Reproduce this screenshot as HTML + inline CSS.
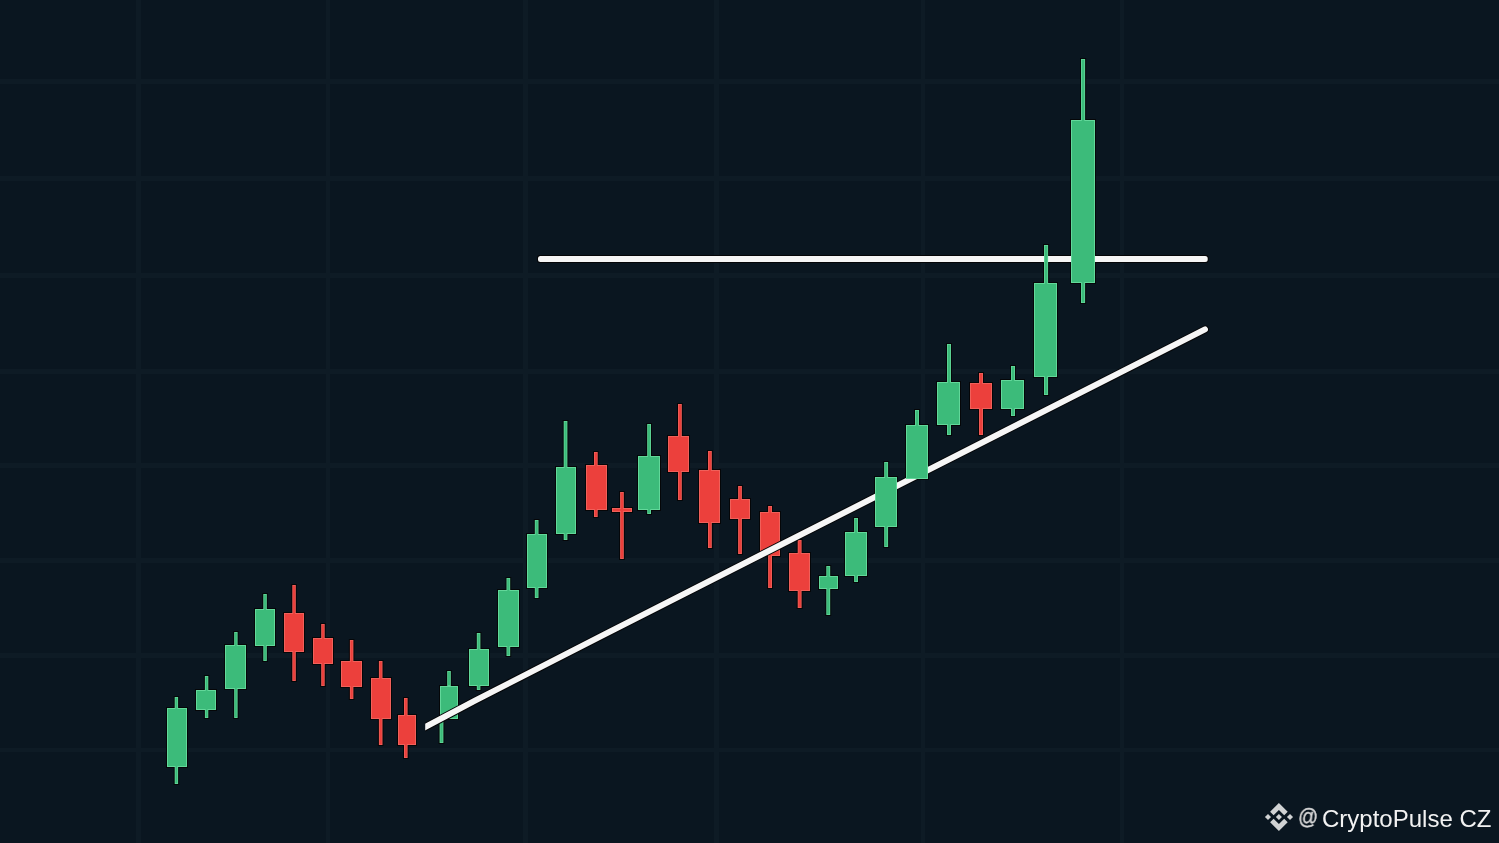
<!DOCTYPE html>
<html><head><meta charset="utf-8"><style>
html,body{margin:0;padding:0;background:#0a1620;width:1499px;height:843px;overflow:hidden}
svg{display:block;position:absolute;left:0;top:0}
.wm{position:absolute;font-family:"Liberation Sans",sans-serif;color:#f2f2f2;white-space:nowrap;will-change:transform;line-height:normal}
</style></head><body>
<svg width="1499" height="843" viewBox="0 0 1499 843">
<defs><clipPath id="clipd"><rect x="425.2" y="0" width="1499" height="843"/></clipPath></defs>
<rect width="1499" height="843" fill="#0a1620"/>
<rect x="136" y="0" width="5" height="843" fill="#0e1b25"/>
<rect x="326" y="0" width="4" height="843" fill="#0e1b25"/>
<rect x="523" y="0" width="5" height="843" fill="#0e1b25"/>
<rect x="714" y="0" width="5" height="843" fill="#0e1b25"/>
<rect x="921" y="0" width="4" height="843" fill="#0e1b25"/>
<rect x="1120" y="0" width="4" height="843" fill="#0e1b25"/>
<rect x="0" y="79" width="1499" height="5" fill="#0e1b25"/>
<rect x="0" y="176" width="1499" height="5" fill="#0e1b25"/>
<rect x="0" y="273" width="1499" height="5" fill="#0e1b25"/>
<rect x="0" y="369" width="1499" height="5" fill="#0e1b25"/>
<rect x="0" y="463" width="1499" height="5" fill="#0e1b25"/>
<rect x="0" y="558" width="1499" height="5" fill="#0e1b25"/>
<rect x="0" y="653" width="1499" height="5" fill="#0e1b25"/>
<rect x="0" y="748" width="1499" height="4" fill="#0e1b25"/>
<rect x="173.7" y="696.0" width="5.4" height="89.0" fill="#050608"/>
<rect x="166.0" y="707.0" width="22.0" height="61.0" fill="#050608"/>
<rect x="174.7" y="697.0" width="3.4" height="87.0" fill="#62d89a"/>
<rect x="167.0" y="708.0" width="20.0" height="59.0" fill="#62d89a"/>
<rect x="175.5" y="697.8" width="1.8" height="85.4" fill="#3cbb7a"/>
<rect x="168.0" y="709.0" width="18.0" height="57.0" fill="#3cbb7a"/>
<rect x="203.9" y="675.0" width="5.4" height="44.0" fill="#050608"/>
<rect x="195.0" y="689.0" width="22.0" height="22.0" fill="#050608"/>
<rect x="204.9" y="676.0" width="3.4" height="42.0" fill="#62d89a"/>
<rect x="196.0" y="690.0" width="20.0" height="20.0" fill="#62d89a"/>
<rect x="205.7" y="676.8" width="1.8" height="40.4" fill="#3cbb7a"/>
<rect x="197.0" y="691.0" width="18.0" height="18.0" fill="#3cbb7a"/>
<rect x="233.2" y="631.0" width="5.4" height="88.0" fill="#050608"/>
<rect x="224.0" y="644.0" width="23.0" height="46.0" fill="#050608"/>
<rect x="234.2" y="632.0" width="3.4" height="86.0" fill="#62d89a"/>
<rect x="225.0" y="645.0" width="21.0" height="44.0" fill="#62d89a"/>
<rect x="235.0" y="632.8" width="1.8" height="84.4" fill="#3cbb7a"/>
<rect x="226.0" y="646.0" width="19.0" height="42.0" fill="#3cbb7a"/>
<rect x="262.3" y="593.0" width="5.5" height="69.0" fill="#050608"/>
<rect x="254.0" y="608.0" width="22.0" height="39.0" fill="#050608"/>
<rect x="263.3" y="594.0" width="3.5" height="67.0" fill="#62d89a"/>
<rect x="255.0" y="609.0" width="20.0" height="37.0" fill="#62d89a"/>
<rect x="264.1" y="594.8" width="1.9" height="65.4" fill="#3cbb7a"/>
<rect x="256.0" y="610.0" width="18.0" height="35.0" fill="#3cbb7a"/>
<rect x="291.3" y="584.0" width="5.5" height="98.0" fill="#050608"/>
<rect x="283.0" y="612.0" width="22.0" height="41.0" fill="#050608"/>
<rect x="292.3" y="585.0" width="3.5" height="96.0" fill="#f0605a"/>
<rect x="284.0" y="613.0" width="20.0" height="39.0" fill="#f0605a"/>
<rect x="293.1" y="585.8" width="1.9" height="94.4" fill="#ec403c"/>
<rect x="285.0" y="614.0" width="18.0" height="37.0" fill="#ec403c"/>
<rect x="320.2" y="623.0" width="5.5" height="64.0" fill="#050608"/>
<rect x="312.0" y="637.0" width="22.0" height="28.0" fill="#050608"/>
<rect x="321.2" y="624.0" width="3.5" height="62.0" fill="#f0605a"/>
<rect x="313.0" y="638.0" width="20.0" height="26.0" fill="#f0605a"/>
<rect x="322.0" y="624.8" width="1.9" height="60.4" fill="#ec403c"/>
<rect x="314.0" y="639.0" width="18.0" height="24.0" fill="#ec403c"/>
<rect x="348.9" y="639.0" width="5.5" height="61.0" fill="#050608"/>
<rect x="340.0" y="660.0" width="23.0" height="28.0" fill="#050608"/>
<rect x="349.9" y="640.0" width="3.5" height="59.0" fill="#f0605a"/>
<rect x="341.0" y="661.0" width="21.0" height="26.0" fill="#f0605a"/>
<rect x="350.7" y="640.8" width="1.9" height="57.4" fill="#ec403c"/>
<rect x="342.0" y="662.0" width="19.0" height="24.0" fill="#ec403c"/>
<rect x="377.9" y="660.0" width="5.6" height="86.0" fill="#050608"/>
<rect x="370.0" y="677.0" width="22.0" height="43.0" fill="#050608"/>
<rect x="378.9" y="661.0" width="3.6" height="84.0" fill="#f0605a"/>
<rect x="371.0" y="678.0" width="20.0" height="41.0" fill="#f0605a"/>
<rect x="379.7" y="661.8" width="2.0" height="82.4" fill="#ec403c"/>
<rect x="372.0" y="679.0" width="18.0" height="39.0" fill="#ec403c"/>
<rect x="403.0" y="697.0" width="5.6" height="62.0" fill="#050608"/>
<rect x="397.0" y="714.0" width="20.0" height="32.0" fill="#050608"/>
<rect x="404.0" y="698.0" width="3.6" height="60.0" fill="#f0605a"/>
<rect x="398.0" y="715.0" width="18.0" height="30.0" fill="#f0605a"/>
<rect x="404.8" y="698.8" width="2.0" height="58.4" fill="#ec403c"/>
<rect x="399.0" y="716.0" width="16.0" height="28.0" fill="#ec403c"/>
<rect x="446.2" y="670.0" width="5.6" height="17.0" fill="#050608"/>
<rect x="439.0" y="685.0" width="20.0" height="35.0" fill="#050608"/>
<rect x="447.2" y="671.0" width="3.6" height="15.0" fill="#62d89a"/>
<rect x="440.0" y="686.0" width="18.0" height="33.0" fill="#62d89a"/>
<rect x="448.0" y="671.8" width="2.0" height="13.4" fill="#3cbb7a"/>
<rect x="441.0" y="687.0" width="16.0" height="31.0" fill="#3cbb7a"/>
<rect x="438.6" y="719.0" width="5.8" height="25.0" fill="#050608"/><rect x="439.6" y="719.0" width="3.8" height="24.0" fill="#62d89a"/><rect x="440.4" y="719.0" width="2.2" height="23.2" fill="#3cbb7a"/>
<rect x="475.8" y="632.0" width="5.6" height="59.0" fill="#050608"/>
<rect x="468.0" y="648.0" width="22.0" height="39.0" fill="#050608"/>
<rect x="476.8" y="633.0" width="3.6" height="57.0" fill="#62d89a"/>
<rect x="469.0" y="649.0" width="20.0" height="37.0" fill="#62d89a"/>
<rect x="477.6" y="633.8" width="2.0" height="55.4" fill="#3cbb7a"/>
<rect x="470.0" y="650.0" width="18.0" height="35.0" fill="#3cbb7a"/>
<rect x="505.5" y="577.0" width="5.7" height="80.0" fill="#050608"/>
<rect x="497.0" y="589.0" width="23.0" height="59.0" fill="#050608"/>
<rect x="506.5" y="578.0" width="3.7" height="78.0" fill="#62d89a"/>
<rect x="498.0" y="590.0" width="21.0" height="57.0" fill="#62d89a"/>
<rect x="507.3" y="578.8" width="2.1" height="76.4" fill="#3cbb7a"/>
<rect x="499.0" y="591.0" width="19.0" height="55.0" fill="#3cbb7a"/>
<rect x="533.8" y="519.0" width="5.7" height="80.0" fill="#050608"/>
<rect x="526.0" y="533.0" width="22.0" height="56.0" fill="#050608"/>
<rect x="534.8" y="520.0" width="3.7" height="78.0" fill="#62d89a"/>
<rect x="527.0" y="534.0" width="20.0" height="54.0" fill="#62d89a"/>
<rect x="535.6" y="520.8" width="2.1" height="76.4" fill="#3cbb7a"/>
<rect x="528.0" y="535.0" width="18.0" height="52.0" fill="#3cbb7a"/>
<rect x="562.7" y="420.0" width="5.7" height="121.0" fill="#050608"/>
<rect x="555.0" y="466.0" width="22.0" height="69.0" fill="#050608"/>
<rect x="563.7" y="421.0" width="3.7" height="119.0" fill="#62d89a"/>
<rect x="556.0" y="467.0" width="20.0" height="67.0" fill="#62d89a"/>
<rect x="564.5" y="421.8" width="2.1" height="117.4" fill="#3cbb7a"/>
<rect x="557.0" y="468.0" width="18.0" height="65.0" fill="#3cbb7a"/>
<rect x="593.0" y="451.0" width="5.7" height="67.0" fill="#050608"/>
<rect x="585.0" y="464.0" width="23.0" height="47.0" fill="#050608"/>
<rect x="594.0" y="452.0" width="3.7" height="65.0" fill="#f0605a"/>
<rect x="586.0" y="465.0" width="21.0" height="45.0" fill="#f0605a"/>
<rect x="594.8" y="452.8" width="2.1" height="63.4" fill="#ec403c"/>
<rect x="587.0" y="466.0" width="19.0" height="43.0" fill="#ec403c"/>
<rect x="619.1" y="491.0" width="5.7" height="69.0" fill="#050608"/>
<rect x="611.0" y="507.0" width="22.0" height="6.0" fill="#050608"/>
<rect x="620.1" y="492.0" width="3.7" height="67.0" fill="#f0605a"/>
<rect x="612.0" y="508.0" width="20.0" height="4.0" fill="#f0605a"/>
<rect x="620.9" y="492.8" width="2.1" height="65.4" fill="#ec403c"/>
<rect x="613.0" y="509.0" width="18.0" height="2.0" fill="#ec403c"/>
<rect x="646.2" y="423.0" width="5.8" height="92.0" fill="#050608"/>
<rect x="637.0" y="455.0" width="24.0" height="56.0" fill="#050608"/>
<rect x="647.2" y="424.0" width="3.8" height="90.0" fill="#62d89a"/>
<rect x="638.0" y="456.0" width="22.0" height="54.0" fill="#62d89a"/>
<rect x="648.0" y="424.8" width="2.2" height="88.4" fill="#3cbb7a"/>
<rect x="639.0" y="457.0" width="20.0" height="52.0" fill="#3cbb7a"/>
<rect x="677.0" y="403.0" width="5.8" height="98.0" fill="#050608"/>
<rect x="667.0" y="435.0" width="23.0" height="38.0" fill="#050608"/>
<rect x="678.0" y="404.0" width="3.8" height="96.0" fill="#f0605a"/>
<rect x="668.0" y="436.0" width="21.0" height="36.0" fill="#f0605a"/>
<rect x="678.8" y="404.8" width="2.2" height="94.4" fill="#ec403c"/>
<rect x="669.0" y="437.0" width="19.0" height="34.0" fill="#ec403c"/>
<rect x="707.0" y="450.0" width="5.8" height="99.0" fill="#050608"/>
<rect x="698.0" y="469.0" width="23.0" height="55.0" fill="#050608"/>
<rect x="708.0" y="451.0" width="3.8" height="97.0" fill="#f0605a"/>
<rect x="699.0" y="470.0" width="21.0" height="53.0" fill="#f0605a"/>
<rect x="708.8" y="451.8" width="2.2" height="95.4" fill="#ec403c"/>
<rect x="700.0" y="471.0" width="19.0" height="51.0" fill="#ec403c"/>
<rect x="737.1" y="485.0" width="5.8" height="70.0" fill="#050608"/>
<rect x="729.0" y="498.0" width="22.0" height="22.0" fill="#050608"/>
<rect x="738.1" y="486.0" width="3.8" height="68.0" fill="#f0605a"/>
<rect x="730.0" y="499.0" width="20.0" height="20.0" fill="#f0605a"/>
<rect x="738.9" y="486.8" width="2.2" height="66.4" fill="#ec403c"/>
<rect x="731.0" y="500.0" width="18.0" height="18.0" fill="#ec403c"/>
<rect x="767.1" y="505.0" width="5.9" height="84.0" fill="#050608"/>
<rect x="759.0" y="511.0" width="22.0" height="46.0" fill="#050608"/>
<rect x="768.1" y="506.0" width="3.9" height="82.0" fill="#f0605a"/>
<rect x="760.0" y="512.0" width="20.0" height="44.0" fill="#f0605a"/>
<rect x="768.9" y="506.8" width="2.3" height="80.4" fill="#ec403c"/>
<rect x="761.0" y="513.0" width="18.0" height="42.0" fill="#ec403c"/>
<rect x="796.7" y="539.0" width="5.9" height="70.0" fill="#050608"/>
<rect x="788.0" y="552.0" width="23.0" height="40.0" fill="#050608"/>
<rect x="797.7" y="540.0" width="3.9" height="68.0" fill="#f0605a"/>
<rect x="789.0" y="553.0" width="21.0" height="38.0" fill="#f0605a"/>
<rect x="798.5" y="540.8" width="2.3" height="66.4" fill="#ec403c"/>
<rect x="790.0" y="554.0" width="19.0" height="36.0" fill="#ec403c"/>
<rect x="825.3" y="565.0" width="5.9" height="51.0" fill="#050608"/>
<rect x="818.0" y="575.0" width="21.0" height="15.0" fill="#050608"/>
<rect x="826.3" y="566.0" width="3.9" height="49.0" fill="#62d89a"/>
<rect x="819.0" y="576.0" width="19.0" height="13.0" fill="#62d89a"/>
<rect x="827.1" y="566.8" width="2.3" height="47.4" fill="#3cbb7a"/>
<rect x="820.0" y="577.0" width="17.0" height="11.0" fill="#3cbb7a"/>
<rect x="853.1" y="517.0" width="5.9" height="66.0" fill="#050608"/>
<rect x="844.0" y="531.0" width="24.0" height="46.0" fill="#050608"/>
<rect x="854.1" y="518.0" width="3.9" height="64.0" fill="#62d89a"/>
<rect x="845.0" y="532.0" width="22.0" height="44.0" fill="#62d89a"/>
<rect x="854.9" y="518.8" width="2.3" height="62.4" fill="#3cbb7a"/>
<rect x="846.0" y="533.0" width="20.0" height="42.0" fill="#3cbb7a"/>
<rect x="946.0" y="343.0" width="6.0" height="93.0" fill="#050608"/>
<rect x="936.0" y="381.0" width="25.0" height="45.0" fill="#050608"/>
<rect x="947.0" y="344.0" width="4.0" height="91.0" fill="#62d89a"/>
<rect x="937.0" y="382.0" width="23.0" height="43.0" fill="#62d89a"/>
<rect x="947.8" y="344.8" width="2.4" height="89.4" fill="#3cbb7a"/>
<rect x="938.0" y="383.0" width="21.0" height="41.0" fill="#3cbb7a"/>
<rect x="978.0" y="372.0" width="6.0" height="64.0" fill="#050608"/>
<rect x="969.0" y="382.0" width="24.0" height="28.0" fill="#050608"/>
<rect x="979.0" y="373.0" width="4.0" height="62.0" fill="#f0605a"/>
<rect x="970.0" y="383.0" width="22.0" height="26.0" fill="#f0605a"/>
<rect x="979.8" y="373.8" width="2.4" height="60.4" fill="#ec403c"/>
<rect x="971.0" y="384.0" width="20.0" height="24.0" fill="#ec403c"/>
<rect x="1010.0" y="365.0" width="6.0" height="52.0" fill="#050608"/>
<rect x="1000.0" y="379.0" width="25.0" height="31.0" fill="#050608"/>
<rect x="1011.0" y="366.0" width="4.0" height="50.0" fill="#62d89a"/>
<rect x="1001.0" y="380.0" width="23.0" height="29.0" fill="#62d89a"/>
<rect x="1011.8" y="366.8" width="2.4" height="48.4" fill="#3cbb7a"/>
<rect x="1002.0" y="381.0" width="21.0" height="27.0" fill="#3cbb7a"/>
<rect x="883.2" y="461.0" width="5.9" height="87.0" fill="#050608"/>
<rect x="874.0" y="476.0" width="24.0" height="52.0" fill="#050608"/>
<rect x="914.0" y="409.0" width="6.0" height="71.0" fill="#050608"/>
<rect x="905.0" y="424.0" width="24.0" height="56.0" fill="#050608"/>
<rect x="1043.0" y="244.0" width="6.1" height="152.0" fill="#050608"/>
<rect x="1033.0" y="282.0" width="25.0" height="96.0" fill="#050608"/>
<rect x="1080.0" y="58.0" width="6.1" height="246.0" fill="#050608"/>
<rect x="1070.0" y="119.0" width="26.0" height="165.0" fill="#050608"/>
<rect x="537" y="255" width="671.7" height="8" rx="3" fill="#050608"/>
<rect x="538" y="256" width="669.7" height="6" rx="2.5" fill="#f6f6f6"/>
<g clip-path="url(#clipd)">
<path d="M415,732.5 L425,727.2 L475,700.7 L605,634.15 L1115,375.15 L1205,329.45" fill="none" stroke="#050608" stroke-width="7.9" stroke-linecap="round" stroke-linejoin="round"/>
<path d="M415,732.5 L425,727.2 L475,700.7 L605,634.15 L1115,375.15 L1205,329.45" fill="none" stroke="#f6f6f6" stroke-width="5.9" stroke-linecap="round" stroke-linejoin="round"/>
</g>
<rect x="884.2" y="462.0" width="3.9" height="85.0" fill="#62d89a"/>
<rect x="875.0" y="477.0" width="22.0" height="50.0" fill="#62d89a"/>
<rect x="885.0" y="462.8" width="2.3" height="83.4" fill="#3cbb7a"/>
<rect x="876.0" y="478.0" width="20.0" height="48.0" fill="#3cbb7a"/>
<rect x="915.0" y="410.0" width="4.0" height="69.0" fill="#62d89a"/>
<rect x="906.0" y="425.0" width="22.0" height="54.0" fill="#62d89a"/>
<rect x="915.8" y="410.8" width="2.4" height="67.4" fill="#3cbb7a"/>
<rect x="907.0" y="426.0" width="20.0" height="52.0" fill="#3cbb7a"/>
<rect x="1044.0" y="245.0" width="4.1" height="150.0" fill="#62d89a"/>
<rect x="1034.0" y="283.0" width="23.0" height="94.0" fill="#62d89a"/>
<rect x="1044.8" y="245.8" width="2.5" height="148.4" fill="#3cbb7a"/>
<rect x="1035.0" y="284.0" width="21.0" height="92.0" fill="#3cbb7a"/>
<rect x="1081.0" y="59.0" width="4.1" height="244.0" fill="#62d89a"/>
<rect x="1071.0" y="120.0" width="24.0" height="163.0" fill="#62d89a"/>
<rect x="1081.8" y="59.8" width="2.5" height="242.4" fill="#3cbb7a"/>
<rect x="1072.0" y="121.0" width="22.0" height="161.0" fill="#3cbb7a"/>
<g transform="translate(1278.9,817)" fill="#d0d2d3">
<path d="M0,-3.05 L3.05,0 L0,3.05 L-3.05,0 Z"/>
<path d="M-10.9,-3.05 L-7.85,0 L-10.9,3.05 L-13.95,0 Z"/>
<path d="M11.1,-3.05 L14.15,0 L11.1,3.05 L8.05,0 Z"/>
<path d="M0,-14 L8.8,-5.2 L5.3,-1.7 L0,-7 L-5.3,-1.7 L-8.8,-5.2 Z"/>
<path d="M0,14 L8.8,5.2 L5.3,1.7 L0,7 L-5.3,1.7 L-8.8,5.2 Z"/>
</g>
</svg>
<div class="wm" id="at" style="left:1298px;top:804px;font-size:22px;color:#d8d8d8;transform:scaleX(0.9);transform-origin:0 0;-webkit-text-stroke:0.4px #d8d8d8">@</div>
<div class="wm" id="tx" style="left:1322px;top:805px;font-size:24px">CryptoPulse CZ</div>
</body></html>
